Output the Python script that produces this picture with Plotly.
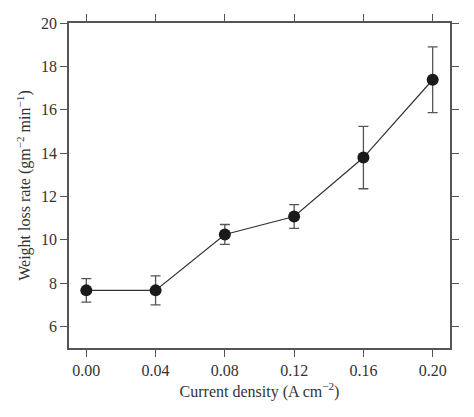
import plotly.graph_objects as go

current_density = [0.00, 0.04, 0.08, 0.12, 0.16, 0.20]
weight_loss_rate = [7.66, 7.66, 10.24, 11.07, 13.79, 17.38]
error = [0.54, 0.67, 0.46, 0.55, 1.44, 1.52]
x_ticks = [0.00, 0.04, 0.08, 0.12, 0.16, 0.20]
x_tick_labels = ["0.00", "0.04", "0.08", "0.12", "0.16", "0.20"]
y_ticks = [6, 8, 10, 12, 14, 16, 18, 20]

axis_color = "#555555"
font_family = "Liberation Serif, DejaVu Serif, serif"

fig = go.Figure()
fig.add_trace(go.Scatter(
    x=current_density, y=weight_loss_rate,
    mode="lines+markers",
    line=dict(color="#333333", width=1.2),
    marker=dict(color="#1a1a1a", size=12),
    error_y=dict(type="data", array=error, visible=True,
                 color="#555555", thickness=1.3, width=5),
    showlegend=False,
))

fig.update_layout(
    width=474, height=417,
    margin=dict(l=69, r=24, t=23, b=69),
    plot_bgcolor="white", paper_bgcolor="white",
    font=dict(family=font_family, size=16, color="#333333"),
)
fig.update_xaxes(
    range=[-0.01, 0.21], tickvals=x_ticks, ticktext=x_tick_labels,
    showgrid=False, zeroline=False,
    showline=True, linecolor=axis_color, linewidth=1.5, mirror="ticks",
    ticks="outside", ticklen=7, tickwidth=1.3, tickcolor=axis_color,
    tickfont=dict(size=16),
    title=dict(text="Current density (A cm<sup>−2</sup>)", standoff=8,
               font=dict(size=16)),
)
fig.update_yaxes(
    range=[5, 20], tickvals=y_ticks,
    showgrid=False, zeroline=False,
    showline=True, linecolor=axis_color, linewidth=1.5, mirror="ticks",
    ticks="outside", ticklen=7, tickwidth=1.3, tickcolor=axis_color,
    tickfont=dict(size=16),
    title=dict(text="Weight loss rate (gm<sup>−2</sup> min<sup>−1</sup>)",
               standoff=6, font=dict(size=16)),
)

fig.write_html("out.html")
